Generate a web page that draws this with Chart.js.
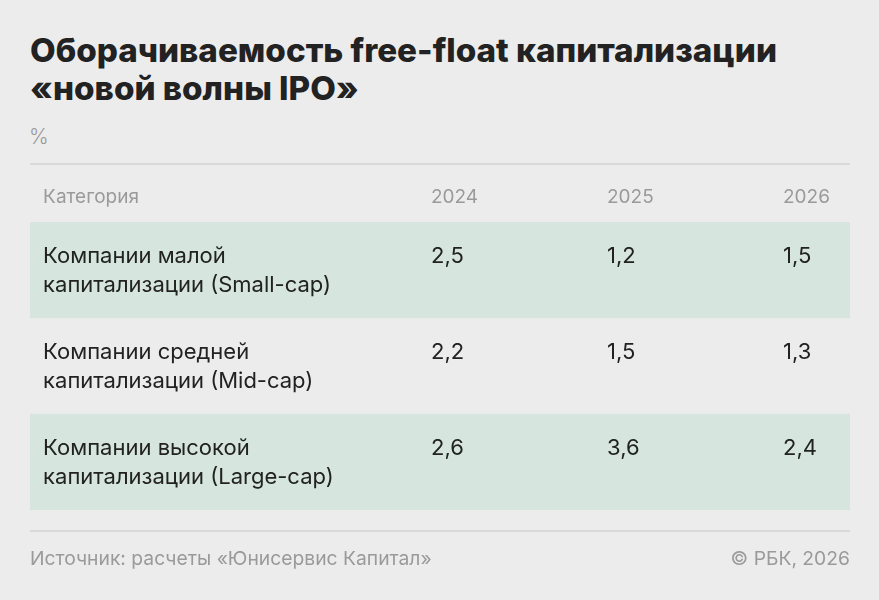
<!DOCTYPE html>
<html lang="ru">
<head>
<meta charset="utf-8">
<script src="https://cdn.jsdelivr.net/npm/chart.js@4/dist/chart.umd.min.js"></script>
<style>
  html, body { margin: 0; padding: 0; background: #ececec; }
  body { width: 879px; height: 600px; position: relative; overflow: hidden; font-family: Inter, "Noto Sans", sans-serif; }
  #title { position: absolute; left: 30px; top: 30.5px; margin: 0; font-size: 33.2px; line-height: 38px; font-weight: 800; color: #222; }
  #unit { position: absolute; left: 29px; top: 124px; font-size: 21px; font-weight: 300; color: #9a9a9a; }
  #source { position: absolute; left: 30px; top: 546px; font-size: 19.3px; color: #9a9a9a; }
  #copy { position: absolute; right: 29px; top: 546px; font-size: 19.3px; color: #9a9a9a; }
  canvas { position: absolute; left: 0; top: 0; }
</style>
</head>
<body>
<h1 id="title">Оборачиваемость free-float капитализации<br>«новой волны IPO»</h1>
<div id="unit">%</div>
<canvas id="c" width="879" height="600"></canvas>
<div id="source">Источник: расчеты «Юнисервис Капитал»</div>
<div id="copy">© РБК, 2026</div>
<script>
const headerLabel = "Категория";
const years = ["2024", "2025", "2026"];
const categories = [
  ["Компании малой", "капитализации (Small-cap)"],
  ["Компании средней", "капитализации (Mid-cap)"],
  ["Компании высокой", "капитализации (Large-cap)"]
];
const values2024 = [2.5, 2.2, 2.6];
const values2025 = [1.2, 1.5, 3.6];
const values2026 = [1.5, 1.3, 2.4];
const seriesByYear = [values2024, values2025, values2026];

const BAND = "#d6e6df";
const fmt = v => v.toFixed(1).replace(".", ",");

// column anchors along the x scale (0..100 = full table width)
const labelCol = 1.6;
const yearCols = [48.9, 70.37, 91.83];

const tablePlugin = {
  id: "tableText",
  afterDatasetsDraw(chart) {
    const { ctx, chartArea, scales } = chart;
    const xs = scales.x, ys = scales.y;
    ctx.save();
    // rules
    ctx.strokeStyle = "#d2d2d2";
    ctx.lineWidth = 1.5;
    ctx.beginPath();
    ctx.moveTo(chartArea.left, chartArea.top - 58);
    ctx.lineTo(chartArea.right, chartArea.top - 58);
    ctx.moveTo(chartArea.left, chartArea.bottom + 21);
    ctx.lineTo(chartArea.right, chartArea.bottom + 21);
    ctx.stroke();
    ctx.textBaseline = "middle";
    ctx.textAlign = "left";
    // header
    ctx.fillStyle = "#9a9a9a";
    ctx.font = "19px Inter, 'Noto Sans', sans-serif";
    const hy = chartArea.top - 25;
    ctx.fillText(headerLabel, xs.getPixelForValue(labelCol), hy);
    years.forEach((y, j) => ctx.fillText(y, xs.getPixelForValue(yearCols[j]), hy));
    // rows
    ctx.fillStyle = "#222";
    ctx.font = "22px Inter, 'Noto Sans', sans-serif";
    const rowH = ys.getPixelForValue(1) - ys.getPixelForValue(0);
    categories.forEach((lines, i) => {
      const top = ys.getPixelForValue(i) - rowH / 2;
      lines.forEach((t, k) => ctx.fillText(t, xs.getPixelForValue(labelCol), top + 34 + k * 29));
      seriesByYear.forEach((arr, j) => ctx.fillText(fmt(arr[i]), xs.getPixelForValue(yearCols[j]), top + 34));
    });
    ctx.restore();
  }
};

new Chart(document.getElementById("c"), {
  type: "bar",
  data: {
    labels: categories.map(c => c.join(" ")),
    datasets: [{
      data: categories.map(() => [0, 100]),
      backgroundColor: categories.map((_, i) => i % 2 === 0 ? BAND : "rgba(0,0,0,0)"),
      barPercentage: 1,
      categoryPercentage: 1,
      borderWidth: 0
    }]
  },
  options: {
    indexAxis: "y",
    responsive: false,
    animation: false,
    devicePixelRatio: 1,
    layout: { padding: { top: 222, bottom: 90, left: 30, right: 29 } },
    scales: {
      x: { type: "linear", min: 0, max: 100, display: false },
      y: { type: "category", display: false }
    },
    plugins: { legend: { display: false }, tooltip: { enabled: false }, title: { display: false } }
  },
  plugins: [tablePlugin]
});
</script>
</body>
</html>
